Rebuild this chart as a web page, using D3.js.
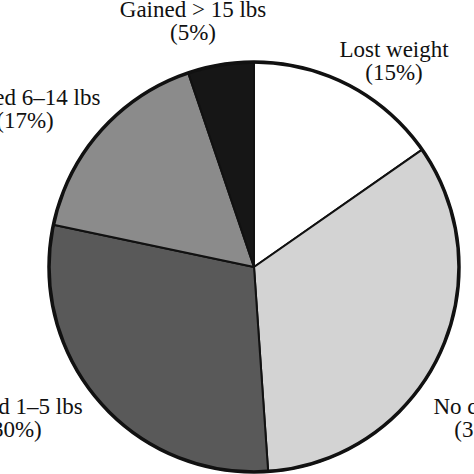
<!DOCTYPE html>
<html>
<head>
<meta charset="utf-8">
<script src="https://cdn.jsdelivr.net/npm/d3@7"></script>
<style>
  html, body { margin: 0; padding: 0; background: #fff; overflow: hidden; }
  text { font-family: "Liberation Serif", "Times New Roman", serif; font-size: 23px; fill: #111; }
</style>
</head>
<body>
<script>
const width = 474, height = 474;

// slices, clockwise from 12 o'clock
const categories = ['Lost weight', 'No change', 'Gained 1\u20135 lbs', 'Gained 6\u201314 lbs', 'Gained > 15 lbs'];
const shares     = [15.3, 33.6, 29.4, 16.5, 5.2];
const pctLabels  = ['(15%)', '(33%)', '(30%)', '(17%)', '(5%)'];

const fills = ['#ffffff', '#d3d3d3', '#595959', '#8b8b8b', '#161616'];
// label centre / first baseline per slice
const labelPos = [[394, 57], [483, 414], [13, 414], [25, 105], [193, 17]];

const cx = 254, cy = 267, r = 205;

const svg = d3.select('body').append('svg')
    .attr('width', width)
    .attr('height', height);

const pie = d3.pie().sort(null).value(d => d);
const arc = d3.arc().innerRadius(0).outerRadius(r);

const g = svg.append('g').attr('transform', `translate(${cx},${cy})`);

g.selectAll('path.slice')
  .data(pie(shares))
  .join('path')
    .attr('class', 'slice')
    .attr('d', arc)
    .attr('fill', (d, i) => fills[i])
    .attr('stroke', '#111')
    .attr('stroke-width', 2)
    .attr('stroke-linejoin', 'round');

g.append('circle')
    .attr('r', r)
    .attr('fill', 'none')
    .attr('stroke', '#111')
    .attr('stroke-width', 3.5);

const labels = svg.selectAll('text.lbl')
  .data(categories)
  .join('text')
    .attr('class', 'lbl')
    .attr('text-anchor', 'middle')
    .attr('transform', (d, i) => `translate(${labelPos[i][0]},${labelPos[i][1]})`);

labels.append('tspan').attr('x', 0).attr('y', 0).text(d => d);
labels.append('tspan').attr('x', 0).attr('y', 23).text((d, i) => pctLabels[i]);
</script>
</body>
</html>
